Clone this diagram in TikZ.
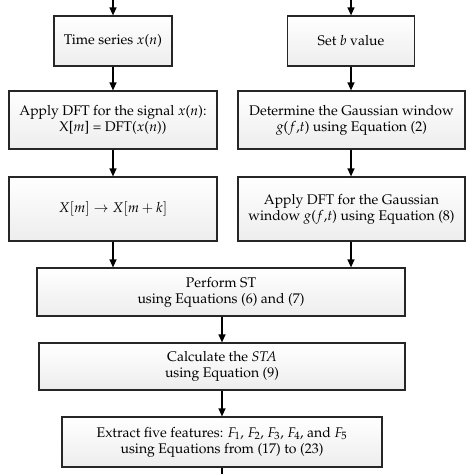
\documentclass[tikz,border=0pt]{standalone}
\usepackage[T1]{fontenc}
\usepackage{mathpazo}
\usepackage{amsmath}
\usepackage{tikz}
\usetikzlibrary{arrows.meta}

\begin{document}
\begin{tikzpicture}	[
		x = 1pt,
		y = -1pt,
		line width = 1.2pt,
		b/.style = {
			draw = black!85,
			rectangle,
			align = center,
			top color = white,
			bottom color = gray!14,
			font = \fontsize{14}{16}\selectfont,
			inner sep = 0pt
		},
		a/.style = {
			-{Triangle[length=8pt,width=7pt]},
			line width = 1.2pt
		}
	]
	\useasboundingbox (0,0) rectangle (474,474);

	% left column
	\node [b, minimum width=118pt, minimum height=50pt] (ts) at (113,41) {Time series $x$($n$)};
	\node [b, minimum width=208pt, minimum height=58pt] (dft) at (113,120)
		{Apply DFT for the signal $x$($n$):\\X[$m$] = DFT($x$($n$))};
	\node [b, minimum width=208pt, minimum height=64pt] (shift) at (113,209) {$X[m] \rightarrow X[m+k]$};

	% right column
	\node [b, minimum width=127pt, minimum height=50pt] (setb) at (351,41) {Set $b$ value};
	\node [b, minimum width=227pt, minimum height=58pt] (gauss) at (351.5,120)
		{Determine the Gaussian window\\$g$($f$,$t$) using Equation (2)};
	\node [b, minimum width=227pt, minimum height=64pt] (gdft) at (351.5,209)
		{Apply DFT for the Gaussian\\window $g$($f$,$t$) using Equation (8)};

	% common part
	\node [b, minimum width=368pt, minimum height=48pt] (st) at (221,292)
		{Perform ST\\using Equations (6) and (7)};
	\node [b, minimum width=366pt, minimum height=47pt] (sta) at (222,366.5)
		{Calculate the \textit{STA}\\using Equation (9)};
	\node [b, minimum width=320pt, minimum height=50pt] (feat) at (222,442)
		{Extract five features: $F_1$, $F_2$, $F_3$, $F_4$, and $F_5$\\using Equations from (17) to (23)};

	\coordinate (inl) at (113,0);
	\coordinate (inr) at (351,0);
	\coordinate (out) at (222,474);

	\draw [a] (inl) -- (ts);
	\draw [a] (ts) -- (dft);
	\draw [a] (dft) -- (shift);
	\draw [a] (shift) -- (shift |- st.north);

	\draw [a] (inr) -- (setb.north -| inr);
	\draw [a] (setb.south -| inr) -- (gauss.north -| inr);
	\draw [a] (gauss.south -| inr) -- (gdft.north -| inr);
	\draw [a] (gdft.south -| inr) -- (st.north -| inr);

	\draw [a] (st.south -| sta) -- (sta);
	\draw [a] (sta) -- (feat);
	\draw (feat) -- (out);
\end{tikzpicture}
\end{document}
